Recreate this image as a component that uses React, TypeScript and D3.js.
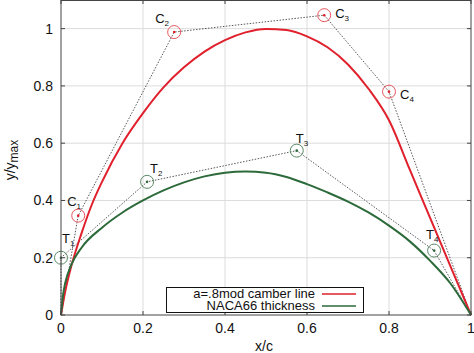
import React from 'react';
import * as d3 from 'd3';

// camber line (a=.8 mod)
const camberX = [0, 0.01, 0.025, 0.05, 0.075, 0.1, 0.15, 0.2, 0.25, 0.3, 0.35, 0.4, 0.45, 0.5, 0.55, 0.6, 0.65, 0.7, 0.75, 0.8, 0.85, 0.9, 0.95, 1];
const camberY = [0, 0.08, 0.17, 0.285, 0.385, 0.465, 0.6, 0.705, 0.795, 0.865, 0.92, 0.96, 0.987, 0.999, 0.995, 0.973, 0.935, 0.875, 0.79, 0.68, 0.51, 0.34, 0.17, 0];

// NACA66 thickness
const thickX = [0, 0.005, 0.01, 0.025, 0.05, 0.1, 0.15, 0.2, 0.25, 0.3, 0.35, 0.4, 0.45, 0.5, 0.55, 0.6, 0.65, 0.7, 0.75, 0.8, 0.85, 0.9, 0.95, 1];
const thickY = [0, 0.07, 0.11, 0.175, 0.235, 0.305, 0.358, 0.4, 0.435, 0.463, 0.484, 0.497, 0.501, 0.497, 0.482, 0.457, 0.428, 0.396, 0.358, 0.312, 0.258, 0.19, 0.11, 0];

// control polygons
const camberCtrlX = [0, 0.042, 0.276, 0.642, 0.8, 1];
const camberCtrlY = [0, 0.347, 0.988, 1.047, 0.78, 0];
const thickCtrlX = [0, 0, 0.21, 0.575, 0.91, 1];
const thickCtrlY = [0, 0.2, 0.465, 0.574, 0.225, 0];

const ticks = [0, 0.2, 0.4, 0.6, 0.8, 1];

// label offsets (px) from the point, text starts there
const cLabels = [
  { i: 1, n: '1', dx: -11, dy: -10 },
  { i: 2, n: '2', dx: -19, dy: -9 },
  { i: 3, n: '3', dx: 11, dy: 3 },
  { i: 4, n: '4', dx: 11, dy: 7 },
];
const tLabels = [
  { i: 1, n: '1', dx: 1, dy: -15 },
  { i: 2, n: '2', dx: 3, dy: -9 },
  { i: 3, n: '3', dx: -1, dy: -8 },
  { i: 4, n: '4', dx: -8, dy: -12 },
];

const W = 474;
const H = 353;
const left = 61;
const right = 471;
const top = 0;
const bottom = 315;

const RED = '#e0202c';
const GREEN = '#2c6a3a';

export default function App() {
  const x = d3.scaleLinear().domain([0, 1]).range([left, right]);
  const y = d3.scaleLinear().domain([0, 1.1]).range([bottom, top]);

  const line = d3.line<[number, number]>()
    .x(d => x(d[0]))
    .y(d => y(d[1]))
    .curve(d3.curveMonotoneX);
  const poly = d3.line<[number, number]>()
    .x(d => x(d[0]))
    .y(d => y(d[1]));

  const camber = camberX.map((v, i) => [v, camberY[i]] as [number, number]);
  const thick = thickX.map((v, i) => [v, thickY[i]] as [number, number]);
  const cPoly = camberCtrlX.map((v, i) => [v, camberCtrlY[i]] as [number, number]);
  const tPoly = thickCtrlX.map((v, i) => [v, thickCtrlY[i]] as [number, number]);

  const font = 'Liberation Sans, Arial, sans-serif';

  return (
    <svg width={W} height={H} style={{ position: 'absolute', left: 0, top: 0, background: '#fff' }}
      fontFamily={font}>
      {/* grid */}
      {ticks.slice(1, 5).map(t => (
        <line key={'gx' + t} x1={x(t)} x2={x(t)} y1={top} y2={bottom} stroke="#dcdcdc" strokeWidth={1} />
      ))}
      {ticks.slice(1).map(t => (
        <line key={'gy' + t} x1={left} x2={right} y1={y(t)} y2={y(t)} stroke="#dcdcdc" strokeWidth={1} />
      ))}

      {/* control polygons */}
      <path d={poly(cPoly) || ''} fill="none" stroke="#444" strokeWidth={0.9} strokeDasharray="1.5,1.5" />
      <path d={poly(tPoly) || ''} fill="none" stroke="#444" strokeWidth={0.9} strokeDasharray="1.5,1.5" />

      {/* curves */}
      <path d={line(camber) || ''} fill="none" stroke={RED} strokeWidth={2} />
      <path d={line(thick) || ''} fill="none" stroke={GREEN} strokeWidth={2} />

      {/* control points */}
      {cLabels.map(l => {
        const px = x(camberCtrlX[l.i]);
        const py = y(camberCtrlY[l.i]);
        return (
          <g key={'c' + l.n}>
            <circle cx={px} cy={py} r={6.5} fill="none" stroke="#e8555c" strokeWidth={1} />
            <circle cx={px} cy={py} r={1.3} fill={RED} />
            <text x={px + l.dx} y={py + l.dy} fontSize={13} fill="#111">
              C<tspan fontSize={8} dy={3}>{l.n}</tspan>
            </text>
          </g>
        );
      })}
      {tLabels.map(l => {
        const px = x(thickCtrlX[l.i]);
        const py = y(thickCtrlY[l.i]);
        return (
          <g key={'t' + l.n}>
            <circle cx={px} cy={py} r={6.5} fill="none" stroke="#5a8a66" strokeWidth={1} />
            <circle cx={px} cy={py} r={1.3} fill={GREEN} />
            <text x={px + l.dx} y={py + l.dy} fontSize={13} fill="#111">
              T<tspan fontSize={8} dy={3}>{l.n}</tspan>
            </text>
          </g>
        );
      })}

      {/* frame */}
      <rect x={left} y={top + 0.5} width={right - left} height={bottom - top - 0.5} fill="none" stroke="#444" strokeWidth={1} />
      {ticks.map(t => (
        <g key={'tk' + t}>
          <line x1={x(t)} x2={x(t)} y1={bottom} y2={bottom - 4} stroke="#444" />
          <line x1={x(t)} x2={x(t)} y1={top} y2={top + 4} stroke="#444" />
          <line x1={left} x2={left + 4} y1={y(t)} y2={y(t)} stroke="#444" />
          <line x1={right} x2={right - 4} y1={y(t)} y2={y(t)} stroke="#444" />
        </g>
      ))}

      {/* tick labels */}
      {ticks.map(t => (
        <text key={'xl' + t} x={x(t)} y={bottom + 18} fontSize={14} textAnchor="middle" fill="#111">
          {String(t)}
        </text>
      ))}
      {ticks.map(t => (
        <text key={'yl' + t} x={left - 8} y={y(t) + 5} fontSize={14} textAnchor="end" fill="#111">
          {String(t)}
        </text>
      ))}

      {/* axis titles */}
      <text x={264} y={351} fontSize={14} textAnchor="middle" fill="#111">x/c</text>
      <text transform="translate(15,160) rotate(-90)" fontSize={14} textAnchor="middle" fill="#111">
        y/y<tspan fontSize={12} dy={3}>max</tspan>
      </text>

      {/* legend */}
      <rect x={166.5} y={287.5} width={197} height={25} fill="#fff" stroke="#111" strokeWidth={1} />
      <text x={315} y={298} fontSize={13} textAnchor="end" fill="#111">a=.8mod camber line</text>
      <line x1={322} x2={356} y1={294} y2={294} stroke={RED} strokeWidth={1.5} />
      <text x={315} y={310} fontSize={13} textAnchor="end" fill="#111">NACA66 thickness</text>
      <line x1={322} x2={356} y1={306} y2={306} stroke={GREEN} strokeWidth={1.5} />
    </svg>
  );
}
